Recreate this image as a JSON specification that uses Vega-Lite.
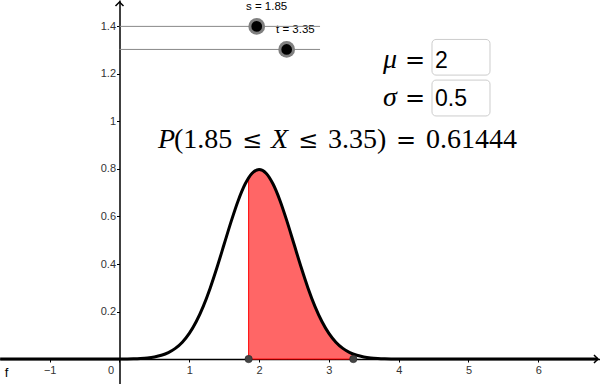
{
  "$schema": "https://vega.github.io/schema/vega-lite/v6.json",
  "width": 600,
  "height": 384,
  "autosize": {"type": "none"},
  "padding": 0,
  "background": "white",
  "config": {"view": {"stroke": null}},
  "encoding": {
    "x": {
      "field": "x",
      "type": "quantitative",
      "scale": {"domain": [-1.712, 6.884], "nice": false, "zero": false},
      "axis": {
        "orient": "bottom",
        "offset": -25,
        "values": [-1, 0, 1, 2, 3, 4, 5, 6],
        "title": null,
        "grid": false,
        "domainColor": "black",
        "domainWidth": 1.5,
        "tickColor": "black",
        "tickSize": 3,
        "labelFont": "Liberation Sans",
        "labelFontSize": 11,
        "labelColor": "#333333",
        "labelPadding": 2,
        "labelFlush": false,
        "labelOverlap": false,
        "labelExpr": "datum.value < 0 ? '−' + abs(datum.value) : datum.label",
        "labelOffset": {"condition": {"test": "datum.value == 0", "value": -9}, "value": 0}
      }
    },
    "y": {
      "field": "y",
      "type": "quantitative",
      "scale": {"domain": [-0.105, 1.511], "nice": false, "zero": false},
      "axis": {
        "orient": "left",
        "offset": -119.5,
        "values": [0.2, 0.4, 0.6, 0.8, 1, 1.2, 1.4],
        "format": "~g",
        "title": null,
        "grid": false,
        "domainColor": "black",
        "domainWidth": 1.5,
        "tickColor": "black",
        "tickSize": 3,
        "labelFont": "Liberation Sans",
        "labelFontSize": 11,
        "labelColor": "#333333",
        "labelPadding": 1
      }
    }
  },
  "layer": [
    {
      "data": {"values": [
        {"x": 4.477, "x2": 5.308, "y": 1.345, "y2": 1.195},
        {"x": 4.477, "x2": 5.308, "y": 1.174, "y2": 1.023}
      ]},
      "mark": {"type": "rect", "fill": "white", "stroke": "#cccccc", "strokeWidth": 1, "cornerRadius": 4},
      "encoding": {"x2": {"field": "x2"}, "y2": {"field": "y2"}}
    },
    {
      "data": {"values": [
        {"x": 0.5516, "y": 0.888, "t": "P"},
        {"x": 2.1705, "y": 0.888, "t": "X"},
        {"x": 3.775, "y": 1.225, "t": "μ"},
        {"x": 3.775, "y": 1.065, "t": "σ"}
      ]},
      "mark": {"type": "text", "font": "Liberation Serif", "fontStyle": "italic", "fontSize": 28, "align": "left", "baseline": "alphabetic", "color": "black"},
      "encoding": {"text": {"field": "t"}}
    },
    {
      "data": {"values": [
        {"x": 0.7808, "y": 0.888, "t": "(1.85"},
        {"x": 2.987, "y": 0.888, "t": "3.35)"},
        {"x": 4.391, "y": 0.888, "t": "0.61444"}
      ]},
      "mark": {"type": "text", "font": "Liberation Serif", "fontSize": 28, "align": "left", "baseline": "alphabetic", "color": "black"},
      "encoding": {"text": {"field": "t"}}
    },
    {
      "data": {"values": [
        {"x": 1.755, "y": 0.888, "t": "≤"},
        {"x": 2.557, "y": 0.888, "t": "≤"},
        {"x": 3.961, "y": 0.888, "t": "="},
        {"x": 4.09, "y": 1.225, "t": "="},
        {"x": 4.09, "y": 1.065, "t": "="}
      ]},
      "mark": {"type": "text", "font": "DejaVu Serif", "fontSize": 24, "align": "left", "baseline": "alphabetic", "color": "black"},
      "encoding": {"text": {"field": "t"}}
    },
    {
      "data": {"values": [
        {"x": 4.52, "y": 1.225, "t": "2"},
        {"x": 4.52, "y": 1.065, "t": "0.5"}
      ]},
      "mark": {"type": "text", "font": "Liberation Sans", "fontSize": 23, "align": "left", "baseline": "alphabetic", "color": "black"},
      "encoding": {"text": {"field": "t"}}
    },
    {
      "data": {"values": [
        {"x": 1.812, "y": 1.467, "t": "s = 1.85"},
        {"x": 2.242, "y": 1.374, "t": "t = 3.35"}
      ]},
      "mark": {"type": "text", "font": "Liberation Sans", "fontSize": 11.5, "align": "left", "baseline": "alphabetic", "color": "black"},
      "encoding": {"text": {"field": "t"}}
    },
    {
      "data": {"values": [
        {"x": -1.645, "y": -0.076, "t": "f"}
      ]},
      "mark": {"type": "text", "font": "Liberation Sans", "fontSize": 13, "align": "left", "baseline": "alphabetic", "color": "black"},
      "encoding": {"text": {"field": "t"}}
    },
    {
      "data": {"values": [
        {"x": 0, "x2": 2.873, "y": 1.4},
        {"x": 0, "x2": 2.873, "y": 1.303}
      ]},
      "mark": {"type": "rule", "color": "#888888", "strokeWidth": 1},
      "encoding": {"x2": {"field": "x2"}}
    },
    {
      "data": {"values": [
        {"x": 1.85, "y": 0.7628}, {"x": 1.9, "y": 0.7821}, {"x": 2.0, "y": 0.7979},
        {"x": 2.1, "y": 0.7821}, {"x": 2.2, "y": 0.7365}, {"x": 2.3, "y": 0.6665},
        {"x": 2.4, "y": 0.5794}, {"x": 2.5, "y": 0.4839}, {"x": 2.6, "y": 0.3884},
        {"x": 2.7, "y": 0.2995}, {"x": 2.8, "y": 0.2218}, {"x": 2.9, "y": 0.1579},
        {"x": 3.0, "y": 0.108}, {"x": 3.1, "y": 0.071}, {"x": 3.2, "y": 0.0448},
        {"x": 3.3, "y": 0.0271}, {"x": 3.35, "y": 0.0208}
      ]},
      "mark": {"type": "area", "fill": "#ff6666", "fillOpacity": 1, "stroke": "#ff0000", "strokeWidth": 1, "interpolate": "monotone"}
    },
    {
      "data": {"values": [
        {"x": -1.71, "y": 0}, {"x": -0.3, "y": 0}, {"x": 0, "y": 0.0003},
        {"x": 0.1, "y": 0.0006}, {"x": 0.2, "y": 0.0012}, {"x": 0.3, "y": 0.0025},
        {"x": 0.4, "y": 0.0048}, {"x": 0.5, "y": 0.0089}, {"x": 0.6, "y": 0.0158},
        {"x": 0.7, "y": 0.0271}, {"x": 0.8, "y": 0.0448}, {"x": 0.9, "y": 0.071},
        {"x": 1.0, "y": 0.108}, {"x": 1.1, "y": 0.1579}, {"x": 1.2, "y": 0.2218},
        {"x": 1.3, "y": 0.2995}, {"x": 1.4, "y": 0.3884}, {"x": 1.5, "y": 0.4839},
        {"x": 1.6, "y": 0.5794}, {"x": 1.7, "y": 0.6665}, {"x": 1.8, "y": 0.7365},
        {"x": 1.9, "y": 0.7821}, {"x": 2.0, "y": 0.7979}, {"x": 2.1, "y": 0.7821},
        {"x": 2.2, "y": 0.7365}, {"x": 2.3, "y": 0.6665}, {"x": 2.4, "y": 0.5794},
        {"x": 2.5, "y": 0.4839}, {"x": 2.6, "y": 0.3884}, {"x": 2.7, "y": 0.2995},
        {"x": 2.8, "y": 0.2218}, {"x": 2.9, "y": 0.1579}, {"x": 3.0, "y": 0.108},
        {"x": 3.1, "y": 0.071}, {"x": 3.2, "y": 0.0448}, {"x": 3.3, "y": 0.0271},
        {"x": 3.4, "y": 0.0158}, {"x": 3.5, "y": 0.0089}, {"x": 3.6, "y": 0.0048},
        {"x": 3.7, "y": 0.0025}, {"x": 3.8, "y": 0.0012}, {"x": 3.9, "y": 0.0006},
        {"x": 4.0, "y": 0.0003}, {"x": 4.3, "y": 0}, {"x": 6.85, "y": 0}
      ]},
      "mark": {"type": "line", "color": "black", "strokeWidth": 3, "interpolate": "monotone"}
    },
    {
      "data": {"values": [{"x": 6.855, "y": 0}]},
      "mark": {"type": "point", "shape": "M-1,-1L0,0L-1,1", "size": 64, "filled": false, "stroke": "black", "strokeWidth": 1.5, "opacity": 1}
    },
    {
      "data": {"values": [{"x": 0, "y": 1.5025}]},
      "mark": {"type": "point", "shape": "M-1,1L0,0L1,1", "size": 64, "filled": false, "stroke": "black", "strokeWidth": 1.5, "opacity": 1}
    },
    {
      "data": {"values": [{"x": 1.85, "y": 0}, {"x": 3.35, "y": 0}]},
      "mark": {"type": "point", "shape": "circle", "filled": true, "size": 55, "color": "#444444", "stroke": "#222222", "strokeWidth": 0.5, "opacity": 1}
    },
    {
      "data": {"values": [{"x": 1.966, "y": 1.4}, {"x": 2.395, "y": 1.303}]},
      "mark": {"type": "point", "shape": "circle", "filled": true, "size": 280, "color": "#808080", "opacity": 1}
    },
    {
      "data": {"values": [{"x": 1.966, "y": 1.4}, {"x": 2.395, "y": 1.303}]},
      "mark": {"type": "point", "shape": "circle", "filled": true, "size": 115, "color": "black", "opacity": 1}
    }
  ]
}
